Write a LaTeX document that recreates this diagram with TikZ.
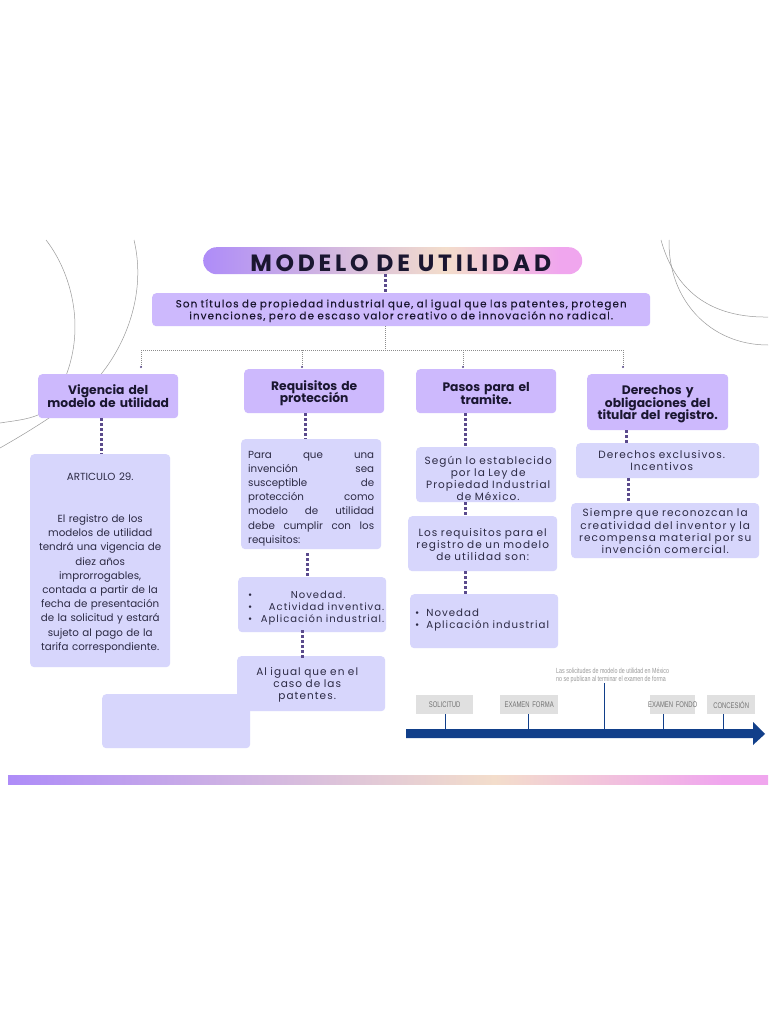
\documentclass[tikz,border=0pt]{standalone}
\usepackage{fontspec}
\setmainfont{Poppins}
\newfontfamily\spaced[LetterSpace=10]{Poppins}
\newfontfamily\defsp[LetterSpace=11,FakeBold=0.25]{Poppins}
\newfontfamily\titlefont[LetterSpace=16]{Poppins}
\newfontfamily\cond[FakeStretch=0.72]{Liberation Sans}
\usetikzlibrary{calc,arrows.meta}
\definecolor{head}{HTML}{CDB9FD}
\definecolor{lite}{HTML}{D7D6FC}
\definecolor{gA}{HTML}{AE8CF8}
\definecolor{gB}{HTML}{F3DDCB}
\definecolor{gC}{HTML}{F0A6EE}
\definecolor{dotc}{HTML}{5A4A8C}
\definecolor{navy}{HTML}{113F8A}
\definecolor{ink}{HTML}{1A1630}
\definecolor{body}{HTML}{2C2A44}
\definecolor{arc}{HTML}{9A9A9A}
\pgfdeclarehorizontalshading{grad}{100bp}{color(0bp)=(gA); color(25bp)=(gA); color(57bp)=(gB); color(72bp)=(gC); color(100bp)=(gC)}
\newcommand{\tightlines}{\lineskiplimit=-20pt\relax}
\tikzset{
 x=1pt,y=-1pt,
 tdown/.style={execute at begin node={\rule{0pt}{#1pt}}},
 hbox/.style={fill=head,rounded corners=4pt,inner sep=0pt,text=ink,align=center,font=\fontsize{12.3}{12.3}\selectfont\bfseries\tightlines},
 lbox/.style={fill=lite,rounded corners=4pt,inner sep=0pt,text=body,align=center,font=\fontsize{10.5}{12}\selectfont\spaced\tightlines},
 gbox/.style={fill=black!12,inner sep=0pt,text=black!55,align=center,font=\fontsize{8.2}{9}\selectfont\cond},
 bigdots/.style={draw=dotc,line width=2.6pt,dash pattern=on 2.6pt off 2.4pt},
 thindots/.style={draw=black!45,line width=.7pt,dash pattern=on 1pt off 1pt},
 tick/.style={draw=navy,line width=1.2pt},
 arcline/.style={draw=arc,line width=.5pt},
}
\newcommand{\bx}[6][hbox]{\node[minimum width=#4-#3,minimum height=#6-#5,text width=#4-#3,anchor=north west,#1] (#2) at (#3,#5)}
\begin{document}
\begin{tikzpicture}
\useasboundingbox (0,0) rectangle (768,1024);
\fill[white] (0,0) rectangle (768,1024);
% decorative arcs
\draw[arcline] (46,240) .. controls (68,268) and (86,320) .. (67,373) .. controls (60,392) and (50,408) .. (38,415) .. controls (26,420) and (12,421) .. (0,423);
\draw[arcline] (134,240) .. controls (146,290) and (128,340) .. (102,373) .. controls (80,400) and (40,425) .. (0,448);
\draw[arcline] (661,240) .. controls (672,280) and (700,318) .. (768,317);
\draw[arcline] (669,240) .. controls (668,300) and (710,345) .. (768,345);
% title and definition
\node[rounded corners=13.5pt,shading=grad,minimum width=379,minimum height=27,text width=379,align=center,inner sep=0pt,anchor=north west,text=ink,font=\fontsize{23.5}{24}\selectfont\bfseries\titlefont,tdown=21.6] (title) at (203,247) {\hspace*{16pt}MODELO DE UTILIDAD};
\bx[hbox,font=\fontsize{10.3}{12}\selectfont\defsp\tightlines,tdown=10]{def}{152}{650}{293}{326} {Son títulos de propiedad industrial que, al igual que las patentes, protegen\\invenciones, pero de escaso valor creativo o de innovación no radical.};
% headings
\bx{vig}{38}{178}{374}{418} {Vigencia del\\modelo de utilidad};
\bx[hbox,tdown=13.5]{req}{244}{384}{369}{413} {Requisitos de\\protección};
\bx[hbox,tdown=13.5]{pas}{416}{556}{369}{413} {Pasos para el\\tramite.};
\bx[hbox,tdown=13.5]{der}{587}{728}{374}{430} {Derechos y\\obligaciones del\\titular del registro.};
% content boxes
\bx[lbox,font=\fontsize{10.3}{14.2}\selectfont\tightlines,tdown=12]{art}{30}{170}{454}{667} {ARTICULO 29.\\[28pt]El registro de los\\modelos de utilidad\\tendrá una vigencia de\\diez años\\improrrogables,\\contada a partir de la\\fecha de presentación\\de la solicitud y estará\\sujeto al pago de la\\tarifa correspondiente.};
\bx[lbox,font=\fontsize{10.3}{14.2}\selectfont\tightlines,text width=126,align=left,tdown=15.5]{par}{241}{381}{439}{549} {Para\hfill que\hfill una\\invención\hfill sea\\susceptible\hfill de\\protección\hfill como\\modelo\hfill de\hfill utilidad\\debe\hfill cumplir\hfill con\hfill los\\requisitos:};
\bx[lbox,font=\fontsize{10}{12}\selectfont\spaced\tightlines,text width=136,align=left,tdown=13.5]{lista}{238}{386}{577}{632} {\hspace*{4pt}\textbullet\hfill Novedad.\hfill\hspace*{-4pt}\null\\\hspace*{4pt}\textbullet\hfill Actividad inventiva.\hspace*{-4pt}\null\\\hspace*{4pt}\textbullet\hfill Aplicación industrial.\hspace*{-4pt}\null};
\bx[lbox,tdown=11]{igual}{237}{385}{656}{711} {\hspace*{-8pt}Al igual que en el\\\hspace*{-8pt}caso de las\\\hspace*{-8pt}patentes.};
\bx[lbox]{empty}{102}{250}{694}{748} {};
\bx[lbox,tdown=16]{seg}{416}{556}{447}{502} {\hspace*{4pt}Según lo establecido\\\hspace*{4pt}por la Ley de\\\hspace*{4pt}Propiedad Industrial\\\hspace*{4pt}de México.};
\bx[lbox,tdown=9]{los}{408}{557}{516}{571} {Los requisitos para el\\registro de un modelo\\de utilidad son:};
\bx[lbox,font=\fontsize{10.2}{12}\selectfont\spaced\tightlines,text width=138,align=left]{listb}{410}{558}{594}{648} {\textbullet\hspace{7pt}Novedad\\\textbullet\hspace{7pt}Aplicación industrial\rule[-5pt]{0pt}{5pt}};
\bx[lbox,font=\fontsize{10.5}{12.5}\selectfont\spaced\tightlines]{exc}{576}{759}{443}{478} {\hspace*{-12pt}Derechos exclusivos.\\\hspace*{-12pt}Incentivos};
\bx[lbox,font=\fontsize{10.5}{12.2}\selectfont\spaced\tightlines,tdown=9]{sie}{571}{759}{503}{558} {Siempre que reconozcan la\\creatividad del inventor y la\\recompensa material por su\\invención comercial.};
% big dotted connectors
\draw[bigdots] ([xshift=-7.5pt]title.south) -- ([xshift=-16pt]def.north);
\draw[bigdots] ([xshift=-7pt]vig.south) -- ([xshift=1pt]art.north);
\draw[bigdots] ([xshift=-9pt]req.south) -- ([xshift=-6pt]par.north);
\draw[bigdots] ([xshift=-4pt,yshift=-4pt]par.south) -- ([xshift=-5pt]lista.north);
\draw[bigdots] ([xshift=-10pt,yshift=2pt]lista.south) -- ([xshift=-9pt,yshift=-2pt]igual.north);
\draw[bigdots] ([xshift=-21pt]pas.south) -- ([xshift=-21pt]seg.north);
\draw[bigdots] ([xshift=-21pt]seg.south) -- ([xshift=-17.5pt]los.north);
\draw[bigdots] ([xshift=-17.5pt]los.south) -- ([xshift=-19pt]listb.north);
\draw[bigdots] ([xshift=-31.5pt]der.south) -- ([xshift=-41.5pt]exc.north);
\draw[bigdots] ([xshift=-39.5pt]exc.south) -- ([xshift=-37pt]sie.north);
% thin branch
\coordinate (bus) at (385,350);
\coordinate (t1) at (141,367);
\coordinate (t2) at (302,367);
\coordinate (t3) at (463,367);
\coordinate (t4) at (623,367);
\draw[thindots] (def.south -| bus) -- (bus);
\draw[thindots] (t1 |- bus) -- (t4 |- bus);
\foreach \t in {t1,t2,t3,t4}{
 \draw[thindots] (\t |- bus) -- (\t);
 \fill[dotc] (\t) circle (1.1pt);
}
% timeline
\coordinate (tlA) at (406,733);
\coordinate (tlB) at (765,733);
\bx[gbox]{sol}{416}{473}{695}{714} {SOLICITUD};
\bx[gbox]{exf}{500}{558}{695}{714} {\makebox[\linewidth]{EXAMEN FORMA}};
\bx[gbox]{exo}{650}{695}{695}{714} {\makebox[\linewidth]{EXAMEN FONDO}};
\bx[gbox]{con}{707}{755}{695}{714} {CONCESIÓN};
\node[anchor=north west,inner sep=0pt,align=left,text=black!40,font=\fontsize{7.4}{7.4}\selectfont\cond] (note) at (556,668) {Las solicitudes de modelo de utilidad en México\\no se publican al terminar el examen de forma};
\draw[tick] ([xshift=.5pt]sol.south) -- ([xshift=.5pt]sol.south |- tlA);
\draw[tick] ([xshift=-1pt]exf.south) -- ([xshift=-1pt]exf.south |- tlA);
\draw[tick] ([xshift=-9pt]exo.south) -- ([xshift=-9pt]exo.south |- tlA);
\draw[tick] ([xshift=-8pt]con.south) -- ([xshift=-8pt]con.south |- tlA);
\draw[tick,line width=1pt] (note.south -| 604,0) -- (604,733);
\fill[navy] (406,729) -- (753,729) -- (753,722) -- (765,734) -- (753,745) -- (753,738) -- (406,738) -- cycle;
% bottom bar
\shade[shading=grad] (8,775) rectangle (768,784);
\end{tikzpicture}
\end{document}
